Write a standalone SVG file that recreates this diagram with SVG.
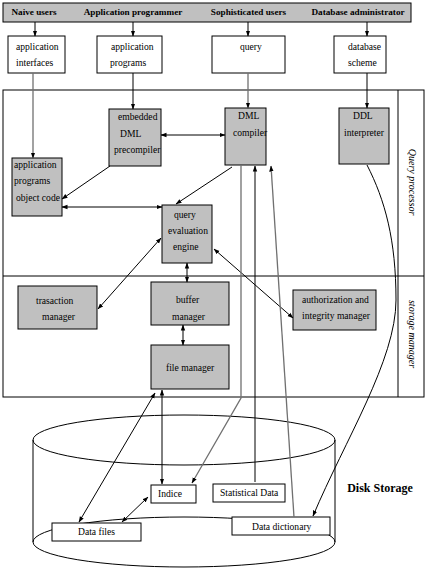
<svg xmlns="http://www.w3.org/2000/svg" width="431" height="568" viewBox="0 0 431 568">
<style>
text{font-family:"Liberation Serif","Times New Roman",serif;font-size:9.6px;fill:#000}
.hd{font-weight:bold;font-size:9.2px}
.gbox{fill:#c0c0c0;stroke:#000;stroke-width:1}
.wbox{fill:#fff;stroke:#000;stroke-width:1}
.ln{fill:none;stroke:#000;stroke-width:1}
.gl{fill:none;stroke:#707070;stroke-width:1.3}
.side{font-style:italic;font-size:10px}
</style>
<defs>
<marker id="ah" markerWidth="6" markerHeight="6" refX="5.5" refY="3" orient="auto" markerUnits="userSpaceOnUse"><path d="M0,0.8 L6,3 L0,5.2 Z" fill="#000"/></marker>
<marker id="as" markerWidth="6" markerHeight="6" refX="0.5" refY="3" orient="auto" markerUnits="userSpaceOnUse"><path d="M6,0.8 L0,3 L6,5.2 Z" fill="#000"/></marker>
</defs>
<rect width="431" height="568" fill="#fff"/>

<g id="users-bar">
<rect x="3" y="3" width="408" height="19" class="gbox"/>
<text class="hd" x="34" y="15" text-anchor="middle">Naive users</text>
<text class="hd" x="133" y="15" text-anchor="middle">Application programmer</text>
<text class="hd" x="248.5" y="15" text-anchor="middle">Sophisticated users</text>
<text class="hd" x="358" y="15" text-anchor="middle">Database administrator</text>
</g>

<g id="frame">
<rect x="3" y="90" width="421" height="307" class="ln"/>
<line x1="398" y1="90" x2="398" y2="397" class="ln"/>
<line x1="3" y1="276" x2="424" y2="276" class="ln"/>
<text class="side" transform="translate(409,182) rotate(90)" text-anchor="middle">Query processor</text>
<text class="side" transform="translate(409,334) rotate(90)" text-anchor="middle">storage manager</text>
</g>

<g id="disk-storage">
<ellipse cx="184" cy="542" rx="151" ry="25" class="ln"/>
<line x1="33" y1="440" x2="33" y2="542" class="ln"/>
<line x1="335" y1="440" x2="335" y2="542" class="ln"/>
<ellipse cx="184" cy="440" rx="151" ry="25" class="ln"/>
<text x="380" y="492" text-anchor="middle" style="font-weight:bold;font-size:12px">Disk Storage</text>
</g>

<g id="application-interfaces"><rect x="8" y="36" width="57" height="37" class="wbox"/><text x="16" y="50">application</text><text x="16" y="66">interfaces</text></g>
<g id="application-programs"><rect x="97" y="36" width="65" height="37" class="wbox"/><text x="111" y="50">application</text><text x="110" y="66">programs</text></g>
<g id="query"><rect x="212" y="36" width="73" height="37" class="wbox"/><text x="240" y="50">query</text></g>
<g id="database-scheme"><rect x="334" y="36" width="52" height="37" class="wbox"/><text x="348" y="50">database</text><text x="348" y="66">scheme</text></g>

<g id="embedded-dml-precompiler"><rect x="109" y="109" width="52" height="57" class="gbox"/><text x="118" y="120">embedded</text><text x="120" y="137">DML</text><text x="114" y="153">precompiler</text></g>
<g id="dml-compiler"><rect x="225" y="108" width="41" height="57" class="gbox"/><text x="238" y="119">DML</text><text x="233" y="136">compiler</text></g>
<g id="ddl-interpreter"><rect x="339" y="108" width="50" height="56" class="gbox"/><text x="353" y="119">DDL</text><text x="344" y="136">interpreter</text></g>
<g id="application-programs-object-code"><rect x="12" y="158" width="50" height="58" class="gbox"/><text x="14" y="168">application</text><text x="14" y="184">programs</text><text x="16" y="201">object code</text></g>
<g id="query-evaluation-engine"><rect x="162" y="205" width="50" height="58" class="gbox"/><text x="174" y="218">query</text><text x="168" y="234">evaluation</text><text x="173" y="250">engine</text></g>

<g id="transaction-manager"><rect x="18" y="286" width="79" height="43" class="gbox"/><text x="36" y="304">trasaction</text><text x="42" y="320">manager</text></g>
<g id="buffer-manager"><rect x="151" y="282" width="78" height="43" class="gbox"/><text x="176" y="303">buffer</text><text x="172" y="320">manager</text></g>
<g id="authorization-integrity-manager"><rect x="293" y="290" width="83" height="40" class="gbox"/><text x="302" y="303">authorization and</text><text x="302" y="319">integrity manager</text></g>
<g id="file-manager"><rect x="151" y="345" width="78" height="44" class="gbox"/><text x="166" y="371">file  manager</text></g>

<g id="indice"><rect x="151" y="485" width="45" height="18" class="wbox"/><text x="158" y="497">Indice</text></g>
<g id="statistical-data"><rect x="213" y="484" width="72" height="18" class="wbox"/><text x="220" y="496">Statistical Data</text></g>
<g id="data-files"><rect x="52" y="523" width="89" height="18" class="wbox"/><text x="78" y="535">Data files</text></g>
<g id="data-dictionary"><rect x="232" y="517" width="98" height="18" class="wbox"/><text x="252" y="530">Data dictionary</text></g>

<g id="connectors">
<line x1="35" y1="22" x2="35" y2="36" class="ln" marker-end="url(#ah)"/>
<line x1="133" y1="22" x2="133" y2="36" class="ln" marker-end="url(#ah)"/>
<line x1="248" y1="22" x2="248" y2="36" class="ln" marker-end="url(#ah)"/>
<line x1="367" y1="22" x2="367" y2="36" class="ln" marker-end="url(#ah)"/>
<line x1="33" y1="73" x2="33" y2="158" class="gl" marker-end="url(#ah)"/>
<line x1="133" y1="73" x2="133" y2="109" class="ln" marker-end="url(#ah)"/>
<line x1="248" y1="73" x2="248" y2="108" class="gl" marker-end="url(#ah)"/>
<line x1="367" y1="73" x2="367" y2="108" class="ln" marker-end="url(#ah)"/>
<line x1="161" y1="135" x2="225" y2="135" class="ln" marker-start="url(#as)" marker-end="url(#ah)"/>
<line x1="110" y1="166" x2="62" y2="199" class="ln" marker-end="url(#ah)"/>
<line x1="232" y1="167" x2="176" y2="204" class="ln" marker-end="url(#ah)"/>
<line x1="62" y1="207" x2="162" y2="207" class="ln" marker-start="url(#as)" marker-end="url(#ah)"/>
<line x1="161" y1="238" x2="98" y2="309" class="ln" marker-start="url(#as)" marker-end="url(#ah)"/>
<line x1="187" y1="263" x2="187" y2="282" class="ln" marker-start="url(#as)" marker-end="url(#ah)"/>
<line x1="214" y1="249" x2="293" y2="318" class="ln" marker-start="url(#as)" marker-end="url(#ah)"/>
<line x1="183" y1="325" x2="183" y2="345" class="ln" marker-start="url(#as)" marker-end="url(#ah)"/>
<line x1="162" y1="390" x2="162" y2="484" class="ln" marker-start="url(#as)" marker-end="url(#ah)"/>
<line x1="155" y1="393" x2="79" y2="522" class="ln" marker-start="url(#as)" marker-end="url(#ah)"/>
<line x1="122" y1="522" x2="148" y2="497" class="ln" marker-start="url(#as)" marker-end="url(#ah)"/>
<polyline points="241,165 241,398 192,483" class="gl" marker-end="url(#ah)"/>
<line x1="255" y1="482" x2="255" y2="166" class="ln" marker-end="url(#ah)"/>
<line x1="294" y1="517" x2="271" y2="166" class="gl" marker-end="url(#ah)"/>
<path d="M367,165 C385,200 396,240 396,300 C396,360 345,440 313,516" class="ln" marker-end="url(#ah)"/>
</g>
</svg>
